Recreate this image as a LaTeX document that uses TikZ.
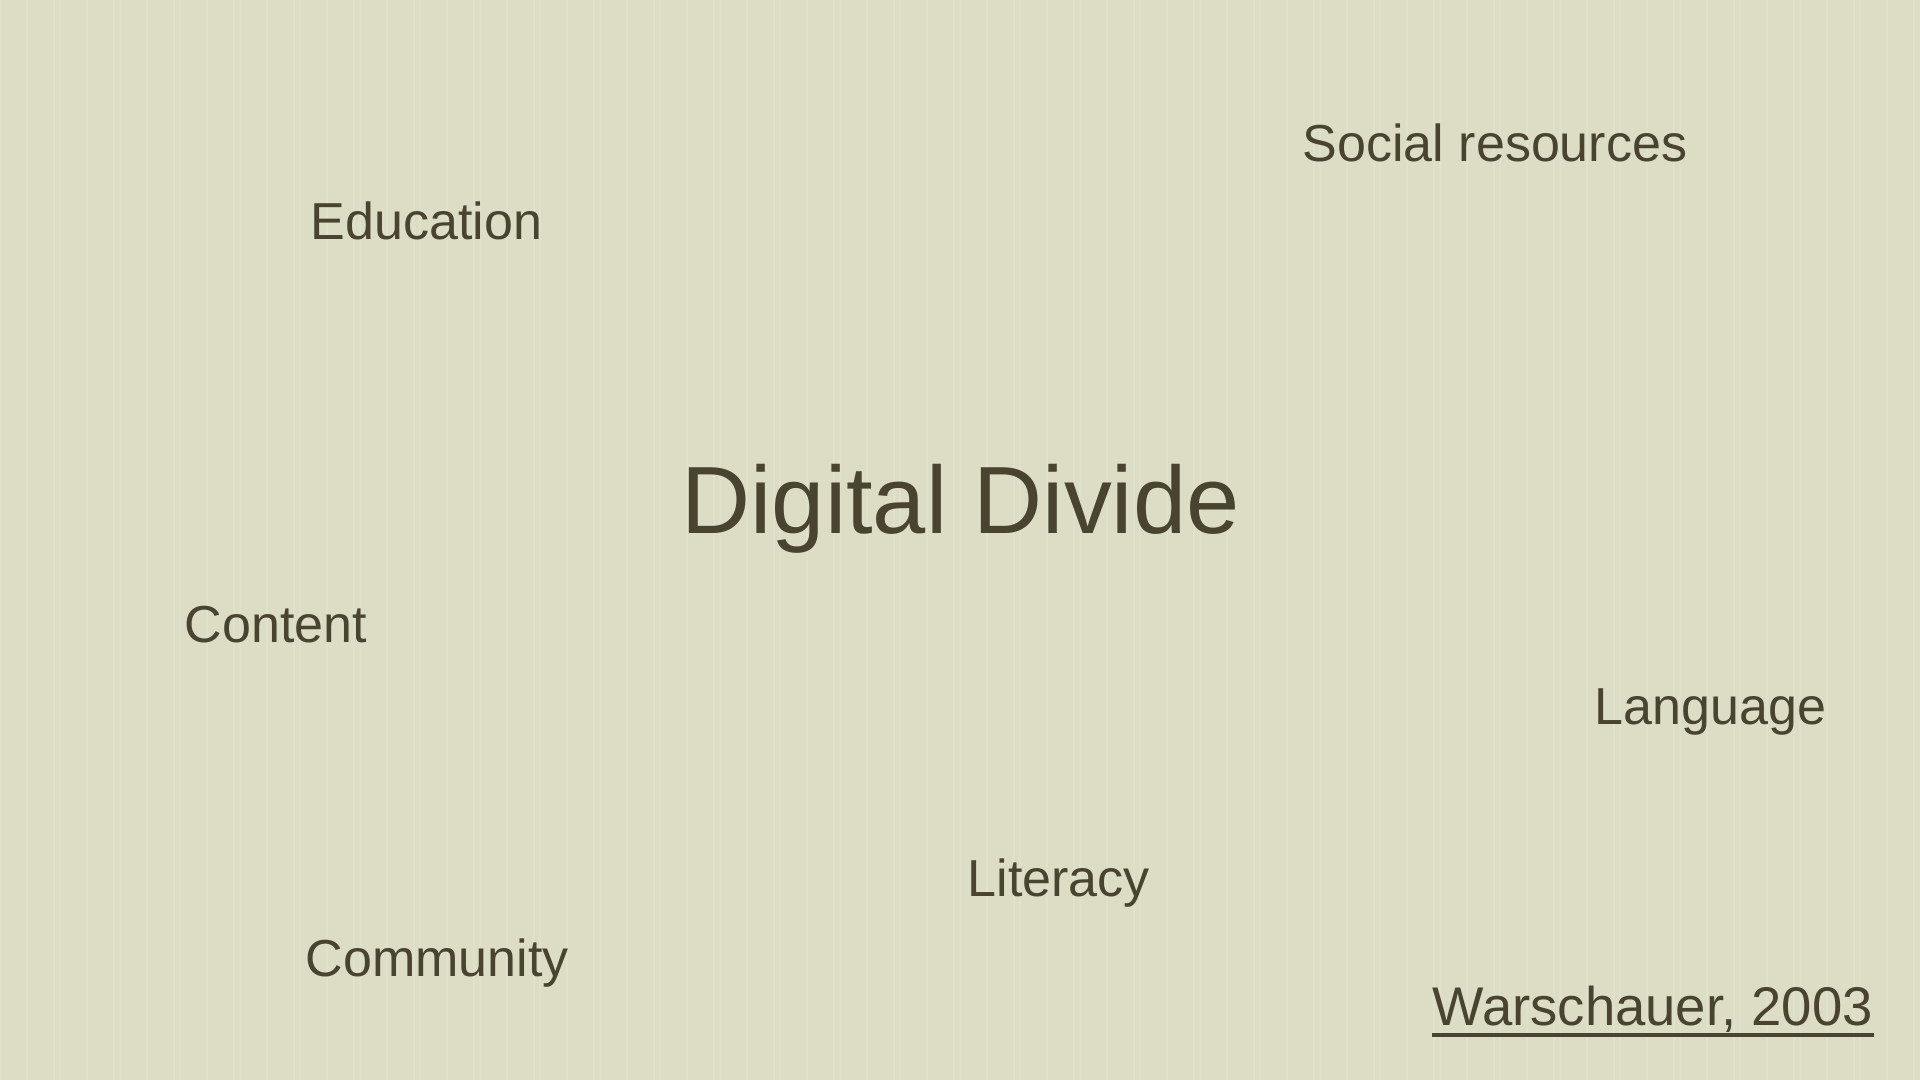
\documentclass[tikz,border=0pt]{standalone}
\usepackage{fontspec}
\setmainfont{Liberation Sans}
\definecolor{paper}{RGB}{220,221,196}
\definecolor{ink}{RGB}{72,68,47}
\tikzset{
    label/.style={anchor=base west,inner sep=0pt,text=ink,font=\fontsize{14.8pt}{17pt}\selectfont},
    title/.style={anchor=base west,inner sep=0pt,text=ink,font=\fontsize{27.2pt}{31pt}\selectfont},
    cite/.style={anchor=base west,inner sep=0pt,text=ink,font=\fontsize{15.5pt}{18pt}\selectfont}
}
\begin{document}
\begin{tikzpicture}
        \pgfmathsetmacro{\slidew}{19.2}
        \pgfmathsetmacro{\slideh}{10.8}

        %draw paper background
        \fill[paper] (0,0) rectangle (\slidew,\slideh);
        \useasboundingbox (0,0) rectangle (\slidew,\slideh);
        \foreach \i in {0,...,95}{
            \pgfmathsetmacro{\xpos}{\i*0.2+0.07*mod(\i*7,3)}
            \draw[white, opacity=0.12, line width=0.6pt] (\xpos,0) -- (\xpos,\slideh);
        }
        %place title
        \node[title] (divide) at (6.81,5.46) {Digital Divide};
        %place factors
        \node[label] (social) at (13.02,9.18) {Social resources};
        \node[label] (education) at (3.10,8.40) {Education};
        \node[label] (content) at (1.84,4.37) {Content};
        \node[label] (language) at (15.94,3.55) {Language};
        \node[label] (literacy) at (9.67,1.83) {Literacy};
        \node[label] (community) at (3.05,1.03) {Community};
        %place source
        \node[cite] (source) at (14.32,0.54) {Warschauer, 2003};
        \draw[ink, line width=1.1pt] ([yshift=-0.09cm]source.base west) -- ([yshift=-0.09cm]source.base east);

      \end{tikzpicture}
\end{document}
